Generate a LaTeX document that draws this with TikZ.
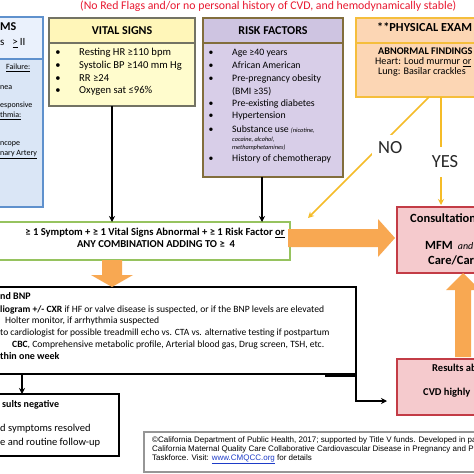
\documentclass[tikz,border=0pt]{standalone}
\usepackage{fontspec}
\setmainfont{Carlito}
\newfontfamily\arialf{Liberation Sans}
\usetikzlibrary{calc,arrows.meta}
\definecolor{redtxt}{RGB}{232,24,48}
\definecolor{blueB}{RGB}{95,145,205}
\definecolor{blueH}{RGB}{234,241,252}
\definecolor{blueF}{RGB}{218,230,246}
\definecolor{yelB}{RGB}{115,115,100}
\definecolor{yelH}{RGB}{255,246,185}
\definecolor{yelF}{RGB}{255,252,205}
\definecolor{purB}{RGB}{130,110,60}
\definecolor{purH}{RGB}{206,196,225}
\definecolor{purF}{RGB}{216,206,232}
\definecolor{orgB}{RGB}{245,190,60}
\definecolor{orgF}{RGB}{252,214,180}
\definecolor{pinkB}{RGB}{195,60,70}
\definecolor{pinkF}{RGB}{245,202,205}
\definecolor{grnB}{RGB}{150,195,95}
\definecolor{arrO}{RGB}{248,168,82}
\definecolor{goldL}{RGB}{245,188,40}
\definecolor{linkB}{RGB}{30,60,200}
\definecolor{labG}{RGB}{40,40,40}
\definecolor{footB}{RGB}{150,150,150}
\newcommand\fsz[1]{\fontsize{#1}{#1}\selectfont}
\tikzset{
  boxr/.style={draw, rectangle, inner sep=0pt, outer sep=0pt, anchor=north west, line width=1.3pt},
  tx/.style={inner sep=0pt, anchor=west, text height=0.68em, text depth=0.18em},
  ttl/.style={inner sep=0pt, font=\bfseries\fsz{12}},
  blk/.style={line width=1.5pt, draw=black},
  tipb/.style={-{Stealth[length=6pt,width=6pt]}},
  gold/.style={line width=1.5pt, draw=goldL, -{Stealth[length=6pt,width=6pt]}},
  barrow/.style={fill=arrO, draw=none},
  bul/.style={inner sep=0pt, anchor=center},
}
\begin{document}
\begin{tikzpicture}[x=1pt,y=-1pt]
\useasboundingbox (0,0) rectangle (474,474);
\fill[white] (0,0) rectangle (474,474);
\clip (0,0) rectangle (474,474);

% title
\node[tx, text=redtxt, font=\fsz{11.8}] (title) at (80,7) {(No Red Flags and/or no personal history of CVD, and hemodynamically stable)};

% symptoms box (left, cut)
\node[boxr, draw=blueB, fill=blueH, minimum width=103pt, minimum height=42pt] (symH) at (-60,17) {};
\node[boxr, draw=blueB, fill=blueF, minimum width=103pt, minimum height=148pt] (symB) at (-60,59) {};
\node[tx, font=\bfseries\fsz{12}] (symT) at (0,28) {MS};
\node[tx, font=\fsz{11}] (symS) at (0,43) {s\hspace{8pt}\underline{>}\,II};
\node[tx, font=\fsz{8}] (s1) at (6,67) {\underline{Failure:}};
\node[tx, font=\fsz{8}] (s2) at (0,87) {nea};
\node[tx, font=\fsz{8}] (s3) at (0,105) {esponsive};
\node[tx, font=\fsz{8}] (s4) at (0,115) {\underline{thmia:}};
\node[tx, font=\fsz{8}] (s5) at (0,143) {ncope};
\node[tx, font=\fsz{8}] (s6) at (0,153) {\underline{nary Artery}};

% vital signs
\node[boxr, draw=yelB, fill=yelH, minimum width=146pt, minimum height=25pt] (vitH) at (49,18) {};
\node[boxr, draw=yelB, fill=yelF, minimum width=146pt, minimum height=63pt] (vitB) at (49,43) {};
\node[ttl] (vitT) at (vitH.center) {VITAL SIGNS};
\foreach \i/\y/\t in {1/53/{Resting HR ≥110 bpm},2/66/{Systolic BP ≥140 mm Hg},3/79/{RR ≥24},4/91/{Oxygen sat ≤96\%}}{
  \node[bul, font=\fsz{10.5}] (vb\i) at (58,\y) {•};
  \node[tx, font=\fsz{10.6}] (vt\i) at (79,\y) {\t};
}

% risk factors
\node[boxr, draw=purB, fill=purH, minimum width=140pt, minimum height=25pt] (rskH) at (203,18) {};
\node[boxr, draw=purB, fill=purF, minimum width=140pt, minimum height=134pt] (rskB) at (203,43) {};
\node[ttl] (rskT) at (rskH.center) {RISK FACTORS};
\foreach \i/\y/\t in {1/53/{Age ≥40 years},2/66/{African American},3/79/{Pre-pregnancy obesity},4/104/{Pre-existing diabetes},5/116/{Hypertension},6/159/{History of chemotherapy}}{
  \node[bul, font=\fsz{9.7}] (rb\i) at (211,\y) {•};
  \node[tx, font=\fsz{9.8}] (rt\i) at (232,\y) {\t};
}
\node[tx, font=\fsz{9.8}] (rt7) at (232,92) {(BMI ≥35)};
\node[bul, font=\fsz{9.7}] (rb8) at (211,130) {•};
\node[tx, font=\fsz{9.8}] (rt8) at (232,130) {Substance use {\itshape\fsz{6.3}(nicotine,}};
\node[tx, font=\itshape\fsz{6.3}] (rt9) at (232,139) {cocaine, alcohol,};
\node[tx, font=\itshape\fsz{6.3}] (rt10) at (232,147) {methamphetamines)};

% physical exam
\node[boxr, draw=orgB, fill=orgF, minimum width=150pt, minimum height=25pt] (exH) at (356,18) {};
\node[boxr, draw=orgB, fill=orgF, minimum width=150pt, minimum height=54pt] (exB) at (356,43) {};
\node[tx, font=\bfseries\fsz{12.3}] (exT) at (377,29) {**PHYSICAL EXAM};
\node[tx, font=\bfseries\fsz{10.2}] (ex1) at (378,52) {ABNORMAL FINDINGS};
\node[tx, font=\fsz{10.1}] (ex2) at (375,62) {Heart: Loud murmur \underline{or}};
\node[tx, font=\fsz{10.1}] (ex3) at (378,72) {Lung: Basilar crackles};

% green criteria box
\node[boxr, draw=grnB, fill=white, minimum width=310pt, minimum height=38pt] (green) at (-20,222) {};
\node[tx, anchor=center, font=\bfseries\fsz{10.6}] (g1) at (155,233) {≥ 1 Symptom + ≥ 1 Vital Signs Abnormal + ≥ 1 Risk Factor \underline{or}};
\node[tx, anchor=center, font=\bfseries\fsz{10.6}] (g2) at (156,245) {ANY COMBINATION ADDING TO ≥\ \ 4};

% consultation
\node[boxr, draw=pinkB, fill=pinkF, minimum width=100pt, minimum height=66pt] (cons) at (397,207) {};
\node[tx, font=\bfseries\fsz{12.5}] (c1) at (410,220) {Consultation};
\node[tx, font=\bfseries\fsz{12.5}] (c2) at (425,247) {MFM {\itshape\mdseries\fsz{10} and}};
\node[tx, font=\bfseries\fsz{12.5}] (c3) at (428,262) {Care/Car};

% workup box
\node[boxr, draw=black, fill=white, line width=1.5pt, minimum width=376pt, minimum height=87pt] (work) at (-20,287) {};
\node[tx, font=\bfseries\fsz{10}] (w1) at (0,297) {nd BNP};
\node[tx, font=\fsz{9.6}] (w2) at (0,310) {\textbf{liogram +/- CXR} if HF or valve disease is suspected, or if the BNP levels are elevated};
\node[tx, font=\fsz{9.6}] (w3) at (5,321) {Holter monitor, if arrhythmia suspected};
\node[tx, font=\fsz{9.5}] (w4) at (0,333) {to cardiologist for possible treadmill echo vs. CTA vs. alternative testing if postpartum};
\node[tx, font=\fsz{9.6}] (w5) at (12,345) {\textbf{CBC}, Comprehensive metabolic profile, Arterial blood gas, Drug screen, TSH, etc.};
\node[tx, font=\bfseries\fsz{10}] (w6) at (0,357) {thin one week};

% results negative
\node[boxr, draw=black, fill=white, line width=1.5pt, minimum width=139pt, minimum height=62pt] (neg) at (-20,394) {};
\node[tx, font=\bfseries\fsz{10}] (n1) at (2,405) {sults negative};
\node[tx, font=\fsz{10.5}] (n2) at (0,429) {d symptoms resolved};
\node[tx, font=\fsz{10.5}] (n3) at (0,443) {e and routine follow-up};

% results abnormal
\node[boxr, draw=pinkB, fill=pinkF, minimum width=100pt, minimum height=56pt] (resab) at (397,359) {};
\node[tx, font=\bfseries\fsz{10.5}] (a1) at (432,369) {Results ab};
\node[tx, font=\bfseries\fsz{10.5}] (a2) at (423,393) {CVD highly};

% footer
\node[boxr, draw=footB, fill=white, line width=1.2pt, minimum width=340pt, minimum height=40pt] (foot) at (144,432) {};
\node[tx, font=\arialf\fsz{8}] (f1) at (152,440) {©California Department of Public Health, 2017; supported by Title V funds. Developed in pa};
\node[tx, font=\arialf\fsz{8}] (f2) at (152,449) {California Maternal Quality Care Collaborative Cardiovascular Disease in Pregnancy and P};
\node[tx, font=\arialf\fsz{8}] (f3) at (152,458) {Taskforce. Visit: {\color{linkB}\underline{www.CMQCC.org}} for details};

% black connectors
\coordinate (vx) at ($(vitB.south)+(-10,0)$);
\draw[blk, tipb] (vx) -- (vx |- green.north);
\coordinate (rx) at ($(rskB.south)+(-11,0)$);
\draw[blk, tipb] (rx) -- (rx |- green.north);
\coordinate (wx) at ($(work.south west)+(42,0)$);
\draw[blk, tipb] (wx) -- (wx |- neg.north);
\coordinate (wa) at ($(work.south east)+(-31,2)$);
\coordinate (wTip) at ($(resab.west)+(-10,14)$);
\draw[blk, tipb] (wa) -- (wa -| work.south east) |- (wTip);

% gold connectors
\coordinate (noEnd) at ($(green.north east)+(18,-4)$);
\draw[gold] ($(exB.south)+(-2,0)$) -- node[pos=0.42, fill=white, inner sep=0pt, minimum width=36pt, minimum height=26pt, xshift=12pt, font=\fsz{18.5}, text=labG] (noL) {NO} (noEnd);
\coordinate (yx) at ($(exB.south)+(10,0)$);
\draw[gold] (yx) -- node[pos=0.6, fill=white, inner sep=0pt, minimum width=36pt, minimum height=30pt, xshift=4pt, font=\fsz{18.5}, text=labG] (yesL) {YES} ($(yx |- cons.north)+(0,-2)$);

% block arrows
\coordinate (dA) at (vx |- green.south);
\coordinate (dB) at (vx |- work.north);
\fill[barrow] ($(dA)+(-10,0)$) -- ($(dB)+(-10,-12)$) -- ($(dB)+(-21,-12)$) -- (dB) -- ($(dB)+(21,-12)$) -- ($(dB)+(10,-12)$) -- ($(dA)+(10,0)$) -- cycle;
\coordinate (hA) at ($(green.east)+(-2,-3)$);
\coordinate (hB) at ($(cons.west |- hA)+(-2,0)$);
\fill[barrow] ($(hA)+(0,-9)$) -- ($(hB)+(-17,-9)$) -- ($(hB)+(-17,-19)$) -- (hB) -- ($(hB)+(-17,19)$) -- ($(hB)+(-17,9)$) -- ($(hA)+(0,9)$) -- cycle;
\coordinate (uA) at ($(resab.north west)+(66,-2)$);
\coordinate (uB) at (uA |- cons.south);
\fill[barrow] ($(uA)+(-8,0)$) -- ($(uB)+(-8,17)$) -- ($(uB)+(-17,17)$) -- (uB) -- ($(uB)+(17,17)$) -- ($(uB)+(8,17)$) -- ($(uA)+(8,0)$) -- cycle;
\end{tikzpicture}
\end{document}
